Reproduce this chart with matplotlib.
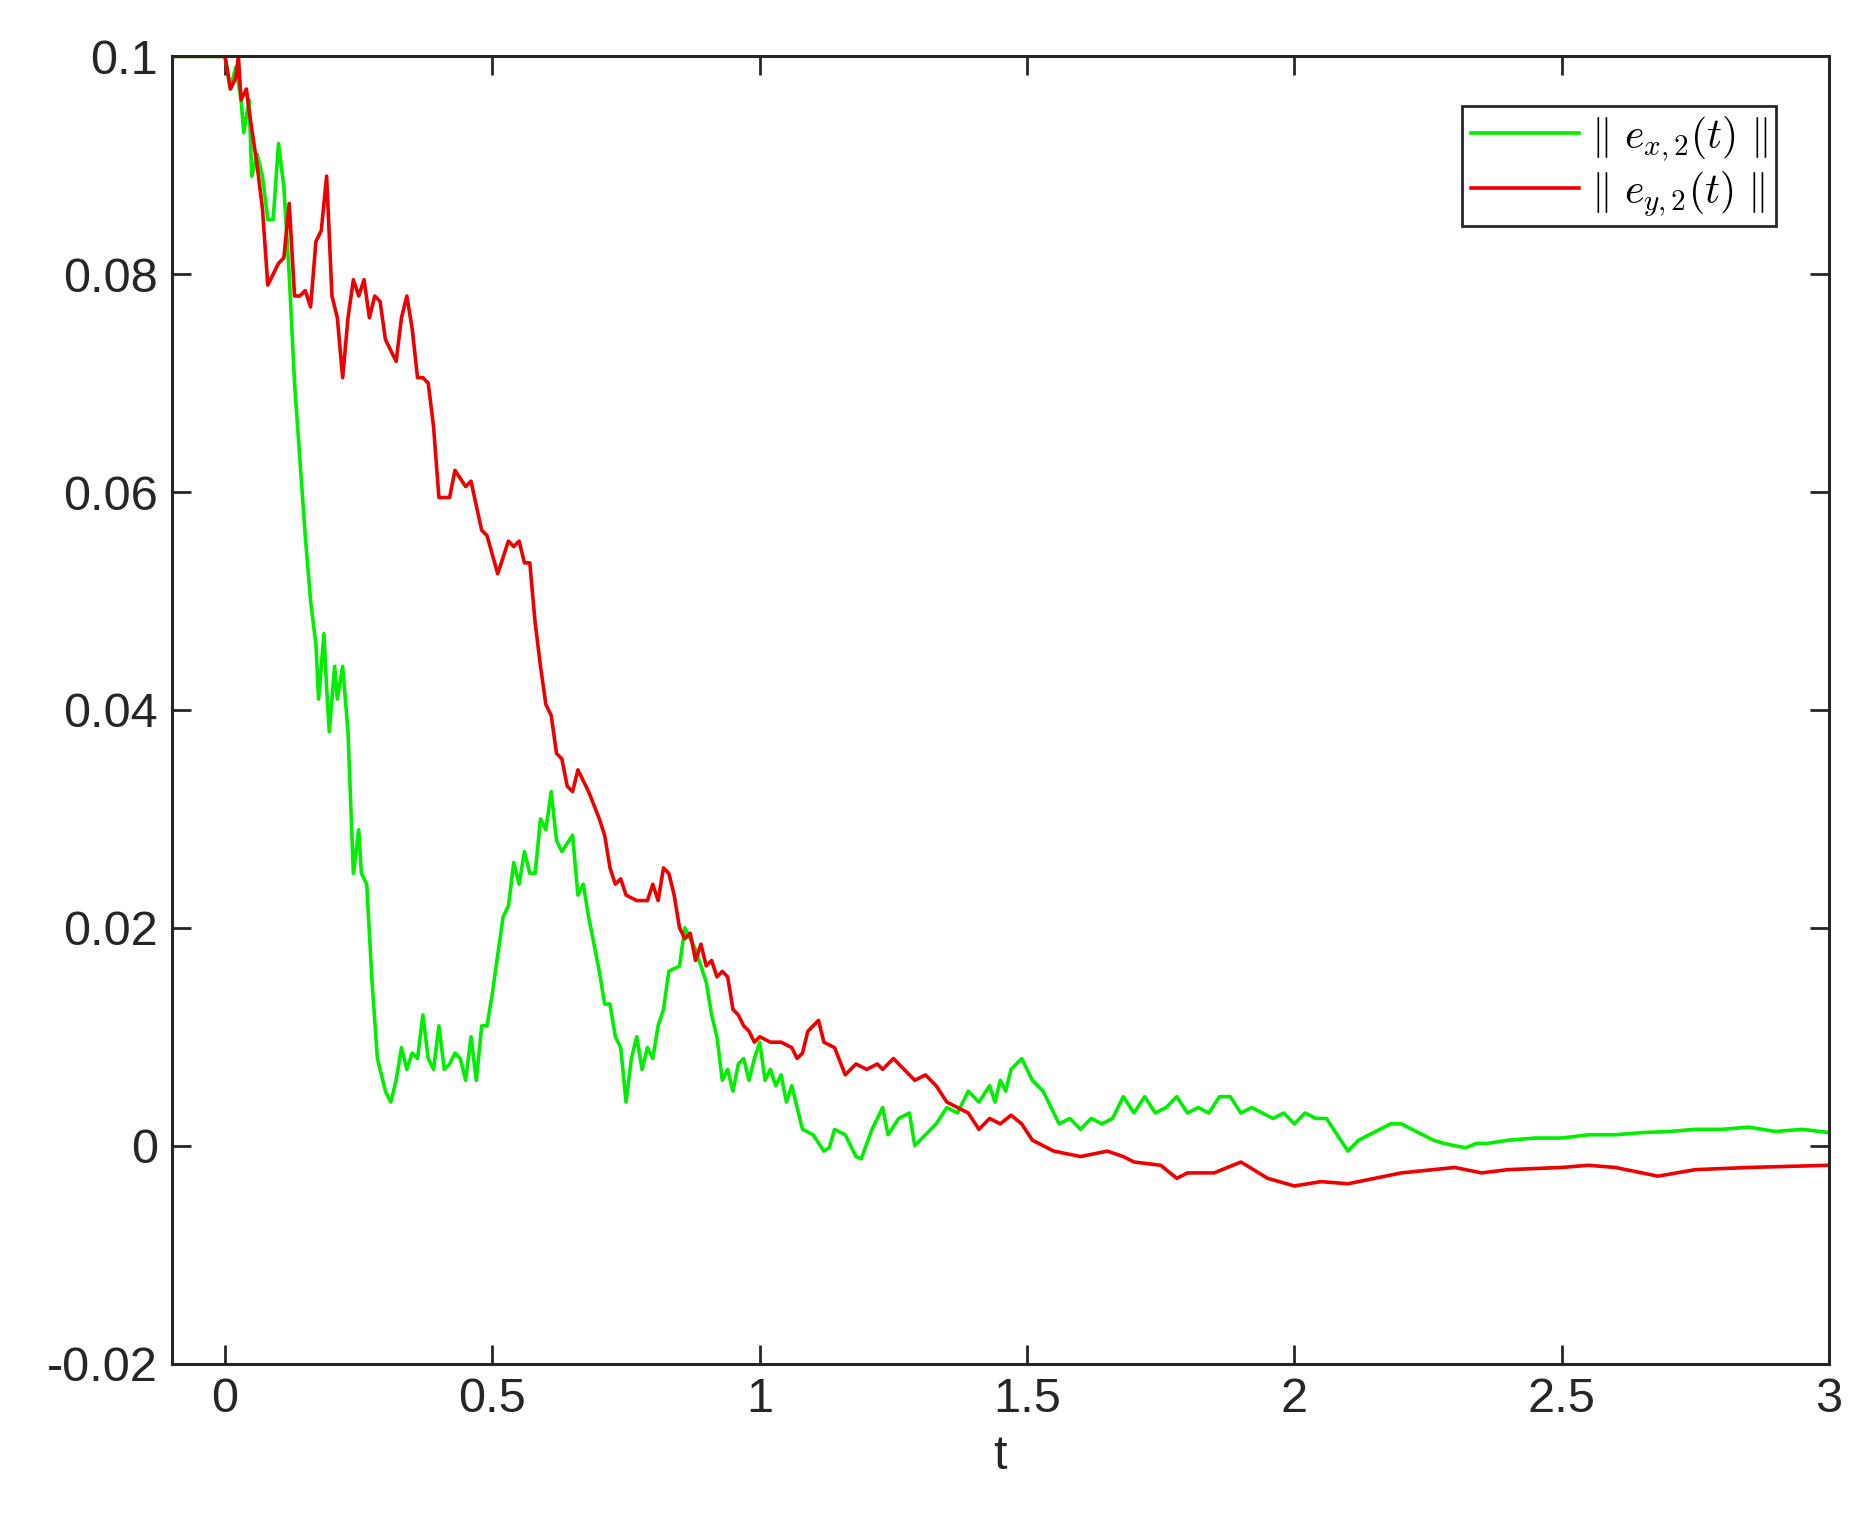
import matplotlib
matplotlib.use("Agg")
import matplotlib.pyplot as plt

plt.rcParams['font.family'] = ['Liberation Sans', 'DejaVu Sans']
plt.rcParams['mathtext.fontset'] = 'cm'

green_t = [-0.1,0,0.01,0.02,0.03,0.035,0.045,0.05,0.06,0.07,0.08,0.09,0.1,0.11,0.12,0.13,0.14,0.15,0.16,0.17,0.175,0.185,0.19,0.195,0.205,0.21,0.22,0.23,0.24,0.25,0.255,0.265,0.275,0.285,0.3,0.31,0.32,0.33,0.34,0.35,0.36,0.37,0.38,0.39,0.4,0.41,0.42,0.43,0.44,0.45,0.46,0.47,0.48,0.49,0.5,0.52,0.53,0.54,0.55,0.56,0.57,0.58,0.59,0.6,0.61,0.62,0.63,0.65,0.66,0.67,0.68,0.7,0.71,0.72,0.73,0.74,0.75,0.76,0.77,0.78,0.79,0.8,0.81,0.82,0.83,0.85,0.86,0.88,0.9,0.91,0.92,0.93,0.94,0.95,0.96,0.97,0.98,0.99,1.0,1.01,1.02,1.03,1.04,1.05,1.06,1.08,1.1,1.12,1.13,1.14,1.16,1.18,1.19,1.21,1.23,1.24,1.26,1.28,1.29,1.31,1.33,1.35,1.37,1.39,1.41,1.43,1.44,1.45,1.46,1.47,1.49,1.51,1.53,1.55,1.56,1.58,1.6,1.62,1.64,1.66,1.68,1.7,1.72,1.74,1.76,1.78,1.8,1.82,1.84,1.86,1.88,1.9,1.92,1.94,1.96,1.98,2.0,2.02,2.04,2.06,2.08,2.1,2.12,2.14,2.16,2.18,2.2,2.22,2.24,2.26,2.28,2.3,2.32,2.34,2.36,2.4,2.45,2.5,2.55,2.6,2.65,2.7,2.75,2.8,2.85,2.9,2.95,3.0]
green_y = [0.1,0.1,0.097,0.099,0.096,0.093,0.096,0.089,0.091,0.089,0.085,0.085,0.092,0.088,0.08,0.07,0.063,0.056,0.05,0.046,0.041,0.047,0.042,0.038,0.044,0.041,0.044,0.038,0.025,0.029,0.025,0.024,0.015,0.008,0.005,0.004,0.006,0.009,0.007,0.0085,0.008,0.012,0.008,0.007,0.011,0.007,0.0075,0.0085,0.008,0.006,0.01,0.006,0.011,0.011,0.014,0.021,0.022,0.026,0.024,0.027,0.025,0.025,0.03,0.029,0.0325,0.028,0.027,0.0285,0.023,0.024,0.021,0.016,0.013,0.013,0.01,0.009,0.004,0.008,0.01,0.007,0.009,0.008,0.011,0.0125,0.016,0.0165,0.02,0.018,0.015,0.012,0.01,0.006,0.007,0.005,0.0075,0.008,0.006,0.008,0.0095,0.006,0.007,0.0055,0.0065,0.004,0.0055,0.0015,0.001,-0.0005,-0.0002,0.0015,0.001,-0.001,-0.0012,0.0015,0.0035,0.001,0.0025,0.003,0.0,0.001,0.002,0.0035,0.003,0.005,0.004,0.0055,0.004,0.006,0.005,0.007,0.008,0.006,0.005,0.003,0.002,0.0025,0.0015,0.0025,0.002,0.0025,0.0045,0.003,0.0045,0.003,0.0035,0.0045,0.003,0.0035,0.003,0.0045,0.0045,0.003,0.0035,0.003,0.0025,0.003,0.002,0.003,0.0025,0.0025,0.001,-0.0005,0.0005,0.001,0.0015,0.002,0.002,0.0015,0.001,0.0005,0.0002,0.0,-0.0002,0.0002,0.0002,0.0005,0.0007,0.0007,0.001,0.001,0.0012,0.0013,0.0015,0.0015,0.0017,0.0013,0.0015,0.0012]

red_t = [-0.1,0,0.01,0.02,0.025,0.03,0.04,0.045,0.06,0.07,0.08,0.1,0.11,0.12,0.13,0.14,0.15,0.16,0.17,0.18,0.19,0.2,0.21,0.22,0.23,0.24,0.25,0.26,0.27,0.28,0.29,0.3,0.32,0.33,0.34,0.35,0.36,0.37,0.38,0.39,0.4,0.42,0.43,0.45,0.46,0.48,0.49,0.51,0.52,0.53,0.54,0.55,0.56,0.57,0.58,0.59,0.6,0.61,0.62,0.63,0.64,0.65,0.66,0.68,0.7,0.71,0.72,0.73,0.74,0.75,0.77,0.79,0.8,0.81,0.82,0.83,0.84,0.85,0.86,0.87,0.88,0.89,0.9,0.91,0.92,0.93,0.94,0.95,0.96,0.97,0.98,0.99,1.0,1.02,1.04,1.06,1.07,1.08,1.09,1.1,1.11,1.12,1.14,1.16,1.18,1.2,1.22,1.23,1.25,1.27,1.29,1.31,1.33,1.35,1.37,1.39,1.41,1.43,1.45,1.47,1.49,1.51,1.53,1.55,1.6,1.65,1.68,1.7,1.75,1.78,1.8,1.85,1.9,1.95,2.0,2.05,2.1,2.15,2.2,2.3,2.35,2.4,2.5,2.55,2.6,2.68,2.75,2.85,3.0]
red_y = [0.1,0.1,0.097,0.098,0.1,0.096,0.097,0.095,0.09,0.086,0.079,0.081,0.0815,0.0865,0.078,0.078,0.0785,0.077,0.083,0.084,0.089,0.078,0.076,0.0705,0.076,0.0795,0.078,0.0795,0.076,0.078,0.0775,0.074,0.072,0.076,0.078,0.075,0.0705,0.0705,0.07,0.066,0.0595,0.0595,0.062,0.0605,0.061,0.0565,0.056,0.0525,0.054,0.0555,0.055,0.0555,0.0535,0.0535,0.048,0.044,0.0405,0.0395,0.036,0.0355,0.033,0.0325,0.0345,0.0325,0.03,0.0285,0.0255,0.024,0.0245,0.023,0.0225,0.0225,0.024,0.0225,0.0255,0.025,0.023,0.02,0.019,0.0195,0.017,0.0185,0.0165,0.017,0.0155,0.016,0.0155,0.0125,0.012,0.011,0.0105,0.0095,0.01,0.0095,0.0095,0.009,0.008,0.0085,0.0105,0.011,0.0115,0.0095,0.009,0.0065,0.0075,0.007,0.0075,0.007,0.008,0.007,0.006,0.0065,0.0055,0.004,0.0035,0.003,0.0015,0.0025,0.002,0.0028,0.002,0.0005,0.0,-0.0005,-0.001,-0.0005,-0.001,-0.0015,-0.0018,-0.003,-0.0025,-0.0025,-0.0015,-0.003,-0.0037,-0.0033,-0.0035,-0.003,-0.0025,-0.002,-0.0025,-0.0022,-0.002,-0.0018,-0.002,-0.0028,-0.0022,-0.002,-0.0018]

fig = plt.figure(figsize=(18.71, 15.35), dpi=100)
ax = fig.add_axes([0.0917, 0.1117, 0.8859, 0.8516])
ax.plot(green_t, green_y, color='#00ee00', lw=2.6, label=r'$\Vert\ e_{x,2}(t)\ \Vert$')
ax.plot(red_t, red_y, color='#ee0000', lw=2.6, label=r'$\Vert\ e_{y,2}(t)\ \Vert$')
ax.set_xlim(-0.1, 3)
ax.set_ylim(-0.02, 0.1)
ax.set_xticks([0, 0.5, 1, 1.5, 2, 2.5, 3])
ax.set_xticklabels(['0', '0.5', '1', '1.5', '2', '2.5', '3'])
ax.set_yticks([-0.02, 0, 0.02, 0.04, 0.06, 0.08, 0.1])
ax.set_yticklabels(['-0.02', '0', '0.02', '0.04', '0.06', '0.08', '0.1'])
ax.tick_params(direction='in', top=True, right=True, length=14, width=2, labelsize=35, colors='#262626', pad=10)
for s in ax.spines.values():
    s.set_linewidth(2.2)
    s.set_color('#262626')
ax.set_xlabel('t', fontsize=35, color='#262626', labelpad=8)
leg = ax.legend(loc='upper right', bbox_to_anchor=(0.968, 0.962), fontsize=30, fancybox=False,
                framealpha=1, edgecolor='#262626', handlelength=2.6, handletextpad=0.3,
                labelspacing=0.15, borderpad=0.2, borderaxespad=0)
leg.get_frame().set_linewidth(2)
fig.savefig('out.png', dpi=100, facecolor='white')
